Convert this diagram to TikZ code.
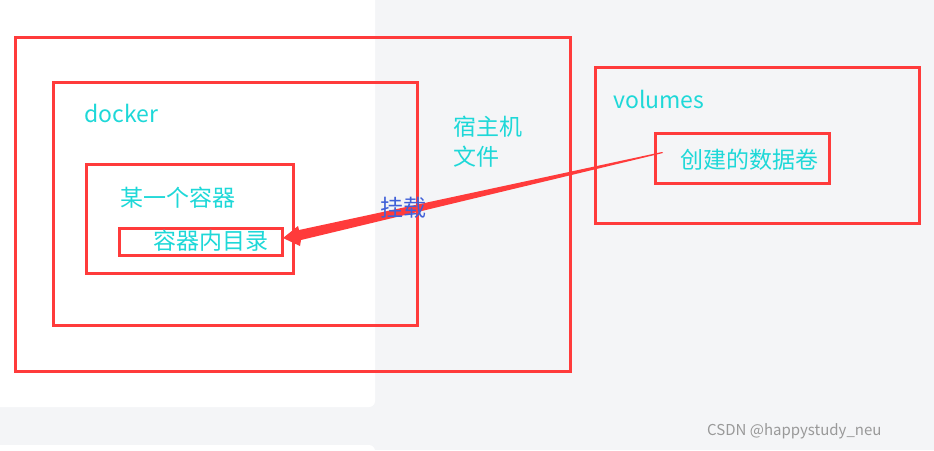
\documentclass[tikz,border=0pt]{standalone}
\usepackage{fontspec}
\setmainfont{Noto Sans CJK SC}
\usetikzlibrary{calc}
\definecolor{bg}{HTML}{F4F5F7}
\definecolor{rd}{HTML}{FF3B3B}
\definecolor{cy}{HTML}{1ED8D8}
\definecolor{bl}{HTML}{4060D8}
\tikzset{box/.style={draw=rd,line width=3pt},
 lbl/.style={text=cy,font=\fontsize{23}{26}\selectfont,anchor=west,inner sep=0pt}}
\begin{document}
\begin{tikzpicture}[x=1pt,y=-1pt]
\useasboundingbox (0,0) rectangle (934,450);
\clip (0,0) rectangle (934,450);
\fill[bg] (0,0) rectangle (934,450);
\fill[white,rounded corners=6pt] (-10,-10) rectangle (375,407);
\fill[white,rounded corners=6pt] (-10,445) rectangle (375,470);
\draw[box] (15,37) rectangle (570,371);
\draw[box] (53,82) rectangle (417,325);
\draw[box] (86,164) rectangle (293,273);
\draw[box] (119,228) rectangle (282,255);
\draw[box] (595,67) rectangle (919,223);
\draw[box] (655,133) rectangle (829,183);
\node[lbl] (dk) at (84,113) {docker};
\node[lbl] (h1) at (453,127) {宿主机};
\node[lbl] (h2) at (453,157) {文件};
\node[lbl] (vol) at (613,99) {volumes};
\node[lbl] (dv) at (680,160) {创建的数据卷};
\node[lbl] (ct) at (120,198) {某一个容器};
\node[lbl] (dir) at (153,241) {容器内目录};
\coordinate (s) at (662,152);
\coordinate (e) at (283,238);
\fill[rd] (s) -- (299,230) -- (298,226) -- (e) -- (300,246) -- (301,240) -- (663,153) -- cycle;
\node[lbl,text=bl] (mt) at (380,208) {挂载};
\node[anchor=west,inner sep=0pt,text=gray!80,font=\fontsize{15}{18}\selectfont] (cs) at (707,431) {CSDN @happystudy\_neu};
\end{tikzpicture}
\end{document}
